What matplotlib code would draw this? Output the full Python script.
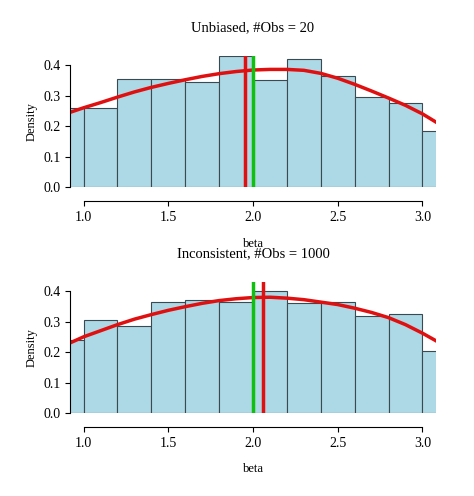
import matplotlib
matplotlib.use("Agg")
import matplotlib.pyplot as plt
import numpy as np

edges = [0.8,1.0,1.2,1.4,1.6,1.8,2.0,2.2,2.4,2.6,2.8,3.0,3.2]
dens1 = [0.26,0.26,0.355,0.355,0.345,0.43,0.35,0.42,0.365,0.295,0.275,0.185]
dens2 = [0.24,0.305,0.285,0.365,0.37,0.365,0.40,0.36,0.365,0.32,0.325,0.205]
cx  = [0.92,1.0,1.1,1.2,1.3,1.4,1.5,1.6,1.7,1.8,1.9,2.0,2.1,2.2,2.3,2.4,2.5,2.6,2.7,2.8,2.9,3.0,3.08]
cy1 = [0.245,0.26,0.277,0.295,0.312,0.327,0.34,0.352,0.363,0.372,0.379,0.384,0.386,0.386,0.383,0.373,0.357,0.337,0.315,0.292,0.268,0.24,0.213]
cy2 = [0.23,0.25,0.27,0.29,0.308,0.323,0.337,0.349,0.36,0.369,0.375,0.379,0.38,0.377,0.372,0.364,0.356,0.344,0.33,0.313,0.29,0.262,0.237]
titles = ["Unbiased, #Obs = 20","Inconsistent, #Obs = 1000"]
red_v = [1.955, 2.06]
green_v = [2.0, 2.0]

plt.rcParams['font.family'] = ['Liberation Serif','DejaVu Serif']
fig = plt.figure(figsize=(4.74,4.96), dpi=100)
W,H = 474,496
axes_px = [(70,56,436,187),(70,282,436,413)]
for i,(x0,y0,x1,y1) in enumerate(axes_px):
    ax = fig.add_axes([x0/W, 1-y1/H, (x1-x0)/W, (y1-y0)/H])
    d = [dens1,dens2][i]
    ax.bar(edges[:-1], d, width=0.2, align='edge', color='#add8e6', edgecolor='#3a4a50', linewidth=0.8)
    ax.plot(cx, [cy1,cy2][i], color='#e01010', lw=2.5)
    ax.axvline(red_v[i], color='#e01010', lw=2.5)
    ax.axvline(green_v[i], color='#10c010', lw=2.5)
    ax.set_xlim(0.92,3.08)
    ax.set_ylim(0,0.43)
    for s in ['top','right']:
        ax.spines[s].set_visible(False)
    ax.spines['left'].set_bounds(0,0.4)
    ax.spines['bottom'].set_bounds(1.0,3.0)
    ax.spines['bottom'].set_position(('outward',10))
    ax.set_xticks([1.0,1.5,2.0,2.5,3.0])
    ax.set_xticklabels(['1.0','1.5','2.0','2.5','3.0'])
    ax.set_yticks([0,0.1,0.2,0.3,0.4])
    ax.set_yticklabels(['0.0','0.1','0.2','0.3','0.4'])
    ax.tick_params(labelsize=10)
    ax.set_ylabel('Density', fontsize=9)
    ax.set_xlabel('beta', fontsize=9, labelpad=10)
    ax.set_title(titles[i], fontsize=10.5, pad=18)
fig.savefig('out.png', dpi=100)
